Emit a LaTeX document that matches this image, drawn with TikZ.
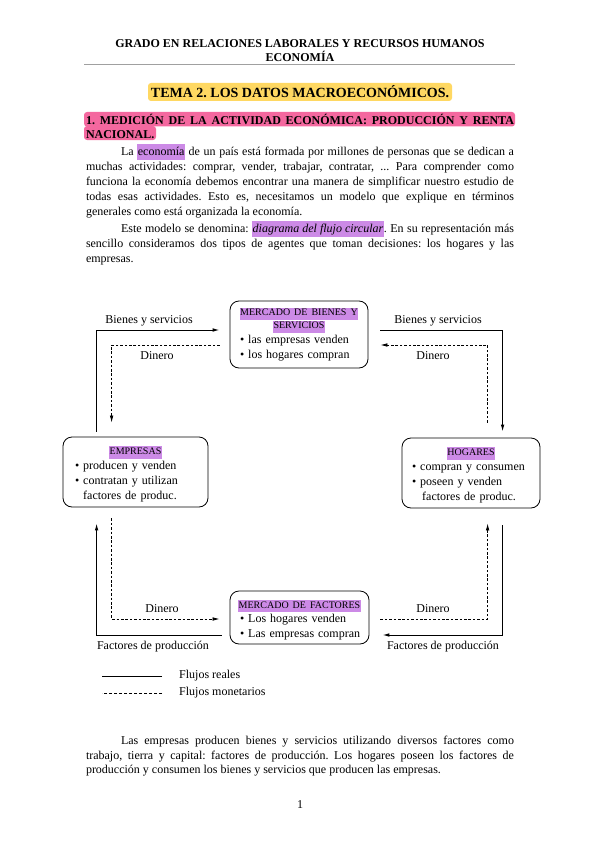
\documentclass[tikz,border=0pt]{standalone}
\usepackage{fontspec}
\setmainfont{Liberation Serif}
\usetikzlibrary{arrows.meta,calc,positioning}
\definecolor{macroYellow}{HTML}{FFD862}
\definecolor{macroPink}{HTML}{F4689F}
\definecolor{macroLilac}{HTML}{CC8AE6}
\definecolor{macroRule}{HTML}{A0A0A0}
\setlength{\parindent}{0pt}
\frenchspacing
\newcommand{\lilac}[1]{{\setlength{\fboxsep}{0.6pt}\colorbox{macroLilac}{\strut #1}}}
\newcommand{\boxhead}[2][0pt]{\makebox[\hsize][c]{\rule{0pt}{#1}\fontsize{10}{11}\selectfont\lilac{#2}}}
\newcommand{\bul}[1]{\mbox{\textbullet\ #1}}
\newcommand{\hang}{\phantom{\textbullet\ }}

\begin{document}
\begin{tikzpicture}[x=1pt,y=-1pt,>=Latex,line join=miter]
\path[fill=white] (0,0) rectangle (599,848);
\tikzset{real/.style={draw=black,line width=1pt},money/.style={draw=black,line width=0.75pt,dash pattern=on 2.6pt off 1.8pt},tip/.style={-{Latex[length=7pt,width=3.6pt]}},box/.style={draw=black,line width=0.8pt,rounded corners=9pt,inner sep=0pt,align=left,font=\fontsize{12}{15}\selectfont},lbl/.style={inner sep=0pt,font=\fontsize{12}{14}\selectfont},body/.style={text width=428pt,align=justify,inner sep=0pt,font=\fontsize{12}{15}\selectfont}}
\node[align=center,inner sep=0pt,font=\bfseries\fontsize{12}{14}\selectfont] (head) at (300,51) {GRADO EN RELACIONES LABORALES Y RECURSOS HUMANOS\\ECONOMÍA};
\draw[draw=macroRule,line width=1pt] (84,65) -- (515,65);
\path[fill=macroYellow,rounded corners=3pt] (148,83) rectangle (452,101);
\node[inner sep=0pt,font=\bfseries\fontsize{14}{16}\selectfont] (tema) at (300,92) {TEMA 2. LOS DATOS MACROECONÓMICOS.};
\path[fill=macroPink,rounded corners=3pt] (84,112) rectangle (515,126.5);
\path[fill=macroPink,rounded corners=3pt] (84,126) rectangle (156,140);
\node[body,font=\bfseries\fontsize{12}{14}\selectfont] (secc) at (300,126) {1. MEDICIÓN DE LA ACTIVIDAD ECONÓMICA: PRODUCCIÓN Y RENTA\linebreak NACIONAL.};
\node[body] (par1) at (300,181) {\hspace*{35pt}La \lilac{economía} de un país está formada por millones de personas que se dedican a\linebreak muchas actividades: comprar, vender, trabajar, contratar, ... Para comprender como\linebreak funciona la economía debemos encontrar una manera de simplificar nuestro estudio de\linebreak todas esas actividades. Esto es, necesitamos un modelo que explique en términos\linebreak generales como está organizada la economía.};
\node[body] (par2) at (300,243) {\hspace*{35pt}Este modelo se denomina: \lilac{\textit{diagrama del flujo circular}}. En su representación más\linebreak sencillo consideramos dos tipos de agentes que toman decisiones: los hogares y las\linebreak empresas.};
\node[box,minimum width=138pt,minimum height=67pt,text width=118pt] (mbs) at (299,334.5) {\boxhead{MERCADO DE BIENES Y}\\[-2pt]\boxhead{SERVICIOS}\\[0pt]\bul{las empresas venden}\\\bul{los hogares compran}};
\node[box,minimum width=145pt,minimum height=70pt,text width=121pt] (emp) at (135.5,472) {\boxhead[13pt]{EMPRESAS}\\[0pt]\bul{producen y venden}\\\bul{contratan y utilizan}\\\hang factores de produc.};
\node[box,minimum width=138pt,minimum height=70pt,text width=118pt] (hog) at (471,473) {\boxhead[13pt]{HOGARES}\\[0pt]\bul{compran y consumen}\\\bul{poseen y venden}\\\hang\,factores de produc.};
\node[box,minimum width=139pt,minimum height=53pt,text width=119pt] (mfa) at (299.5,617.5) {\boxhead[13pt]{MERCADO DE FACTORES}\\[-1pt]\bul{Los hogares venden}\\\bul{Las empresas compran}};
\draw[real,tip] ($(emp.north west)+(34,-5)$) |- ($(mbs.west)+(-10,-4.5)$);
\draw[money,tip] ($(mbs.west)+(-10,10.5)$) -| ($(emp.north west)+(49,-14)$);
\draw[real,tip] ($(mbs.east)+(12,-4.5)$) -| ($(hog.north west)+(101,-6)$);
\draw[money,tip] ($(hog.north west)+(86,-15)$) |- ($(mbs.east)+(12,10.5)$);
\draw[real,tip] ($(mfa.west)+(-8,17.5)$) -| ($(emp.south west)+(34,16)$);
\draw[money,tip] ($(emp.south west)+(49,11)$) |- ($(mfa.west)+(-10,1.5)$);
\draw[money,tip] ($(mfa.east)+(11,1.5)$) -| ($(hog.south west)+(86,15)$);
\draw[real,tip] ($(hog.south west)+(101,17)$) |- ($(mfa.east)+(13,17.5)$);
\node[lbl] (bsL) at (149,321) {Bienes y servicios};
\node[lbl] (bsR) at (438,321) {Bienes y servicios};
\node[lbl] (dnTL) at (157,356) {Dinero};
\node[lbl] (dnTR) at (433,356) {Dinero};
\node[lbl] (dnBL) at (162,609) {Dinero};
\node[lbl] (dnBR) at (433,609) {Dinero};
\node[lbl] (fpL) at (153,647) {Factores de producción};
\node[lbl] (fpR) at (443,647) {Factores de producción};
\node[lbl,anchor=west] (legR) at (179,676) {Flujos reales};
\node[lbl,anchor=west] (legM) at (179,693) {Flujos monetarios};
\draw[real,line width=0.8pt] ($(legR.west)+(-17,0)$) -- ++(-60,0);
\draw[line width=0.6pt,dash pattern=on 3pt off 2pt] ($(legM.west)+(-17,0)$) -- ++(-60,0);
\node[body,font=\fontsize{12}{14.5}\selectfont] (par3) at (300,756.5) {\hspace*{35pt}Las empresas producen bienes y servicios utilizando diversos factores como\linebreak trabajo, tierra y capital: factores de producción. Los hogares poseen los factores de\linebreak producción y consumen los bienes y servicios que producen las empresas.};
\node[lbl] (pag) at (300,805) {1};
\end{tikzpicture}
\end{document}
